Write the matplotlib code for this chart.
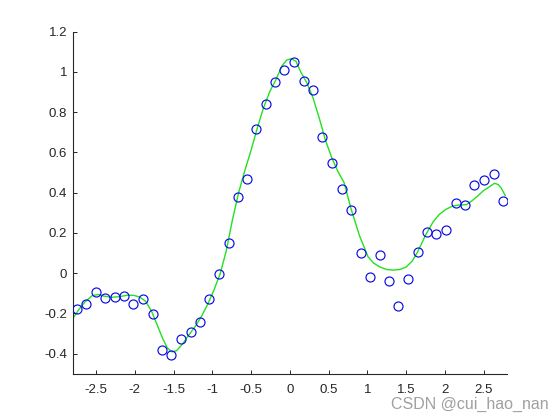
"""Noisy samples with a smooth fitted curve (MATLAB-style figure)."""

import matplotlib
matplotlib.use("Agg")
import matplotlib.pyplot as plt

# sample points (blue circles)
x_pts = [-2.75, -2.63, -2.50, -2.39, -2.26, -2.14, -2.02, -1.89, -1.77, -1.65,
         -1.53, -1.41, -1.28, -1.16, -1.04, -0.91, -0.79, -0.67, -0.55, -0.43,
         -0.31, -0.19, -0.07, 0.06, 0.18, 0.30, 0.42, 0.55, 0.67, 0.79,
         0.92, 1.04, 1.16, 1.28, 1.40, 1.53, 1.65, 1.77, 1.89, 2.02,
         2.14, 2.26, 2.38, 2.50, 2.63, 2.75]
y_pts = [-0.176, -0.154, -0.095, -0.123, -0.118, -0.116, -0.151, -0.128, -0.201, -0.380,
         -0.408, -0.327, -0.290, -0.245, -0.128, -0.006, 0.150, 0.380, 0.466, 0.716,
         0.842, 0.950, 1.010, 1.051, 0.952, 0.909, 0.678, 0.549, 0.418, 0.312,
         0.098, -0.021, 0.088, -0.041, -0.164, -0.031, 0.103, 0.204, 0.192, 0.212,
         0.348, 0.340, 0.438, 0.461, 0.494, 0.360]

# fitted curve (green line), read along its path
x_fit = [-2.80, -2.72, -2.64, -2.55, -2.47, -2.40, -2.30, -2.20, -2.10, -2.02,
         -1.94, -1.86, -1.78, -1.70, -1.64, -1.58, -1.52, -1.46, -1.38, -1.30,
         -1.22, -1.14, -1.06, -0.98, -0.90, -0.82, -0.74, -0.66, -0.58, -0.50,
         -0.42, -0.34, -0.26, -0.18, -0.10, -0.04, 0.02, 0.08, 0.14, 0.22,
         0.30, 0.38, 0.46, 0.54, 0.62, 0.70, 0.79, 0.90, 1.01, 1.08,
         1.16, 1.25, 1.33, 1.42, 1.50, 1.58, 1.65, 1.76, 1.85, 1.93,
         2.02, 2.10, 2.18, 2.28, 2.36, 2.43, 2.50, 2.56, 2.64, 2.69,
         2.73, 2.78]
y_fit = [-0.225, -0.180, -0.142, -0.112, -0.106, -0.114, -0.120, -0.117, -0.110, -0.110,
         -0.118, -0.140, -0.192, -0.268, -0.325, -0.372, -0.391, -0.385, -0.350, -0.305,
         -0.265, -0.215, -0.155, -0.085, -0.005, 0.110, 0.265, 0.400, 0.510, 0.610,
         0.720, 0.820, 0.900, 0.960, 1.030, 1.058, 1.065, 1.052, 1.000, 0.945,
         0.870, 0.770, 0.660, 0.575, 0.505, 0.450, 0.320, 0.185, 0.081, 0.050,
         0.031, 0.018, 0.015, 0.018, 0.030, 0.060, 0.106, 0.195, 0.255, 0.292,
         0.318, 0.333, 0.338, 0.340, 0.362, 0.385, 0.410, 0.425, 0.446, 0.440,
         0.421, 0.385]

x_ticks = [-2.5, -2, -1.5, -1, -0.5, 0, 0.5, 1, 1.5, 2, 2.5]
y_ticks = [-0.4, -0.2, 0, 0.2, 0.4, 0.6, 0.8, 1, 1.2]

plt.rcParams["font.family"] = ["Liberation Sans", "DejaVu Sans"]

fig = plt.figure(figsize=(5.6, 4.2), dpi=100)
ax = fig.add_axes([0.13, 0.11, 0.775, 0.815])

ax.plot(x_fit, y_fit, color="#22E022", linewidth=1.0, zorder=2)
ax.plot(x_pts, y_pts, "o", markersize=6.5, markerfacecolor="none",
        markeredgecolor="#0A0AE6", markeredgewidth=0.85, zorder=3)

ax.set_xlim(-2.8, 2.8)
ax.set_ylim(-0.5, 1.2)
ax.set_xticks(x_ticks)
ax.set_xticklabels(["-2.5", "-2", "-1.5", "-1", "-0.5", "0", "0.5", "1", "1.5", "2", "2.5"])
ax.set_yticks(y_ticks)
ax.set_yticklabels(["-0.4", "-0.2", "0", "0.2", "0.4", "0.6", "0.8", "1", "1.2"])

ax.spines[["top", "right"]].set_visible(False)
ax.spines[["left", "bottom"]].set_color("#262626")
ax.spines[["left", "bottom"]].set_linewidth(0.8)
ax.tick_params(direction="in", length=3, width=0.7, colors="#262626",
               labelsize=9.5)
ax.tick_params(axis="x", pad=7)
ax.tick_params(axis="y", pad=4)

fig.text(0.979, 0.036, "CSDN @cui_hao_nan", ha="right", va="center",
         fontsize=11.5, color="#A0A0A0")

fig.savefig("out.png", dpi=100)
plt.close(fig)
